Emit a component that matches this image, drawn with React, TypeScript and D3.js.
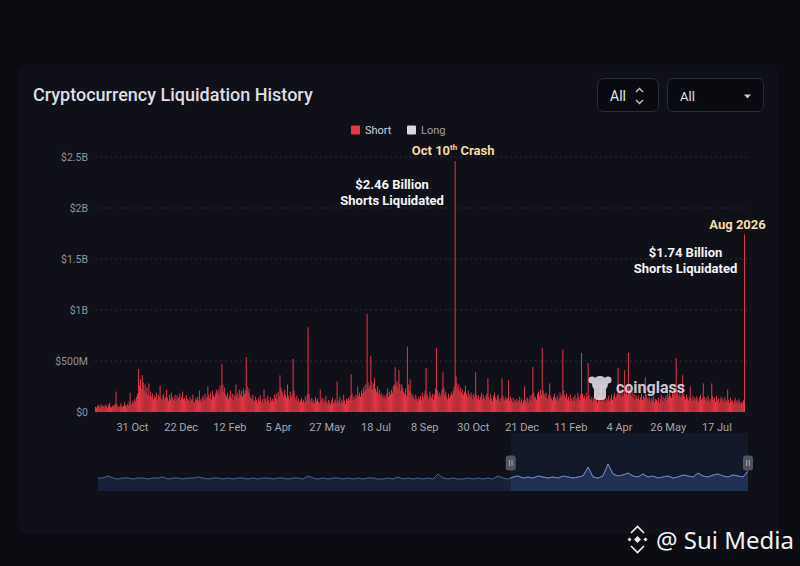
import * as d3 from 'd3';

// daily short liquidations, $M, starting 2024-09-21
const shortDaily: number[] = [
  50, 42, 60, 68, 55, 40, 78, 62, 48, 65,
  45, 75, 58, 42, 70, 90, 52, 45, 62, 55,
  68, 80, 200, 72, 48, 58, 45, 85, 65, 50,
  60, 95, 68, 55, 80, 62, 100, 190, 70, 88,
  110, 85, 130, 105, 150, 180, 420, 260, 320, 230,
  360, 290, 210, 270, 190, 240, 170, 280, 160, 200,
  150, 180, 125, 160, 140, 190, 120, 170, 150, 260,
  135, 115, 160, 180, 125, 145, 220, 140, 110, 170,
  125, 190, 150, 115, 135, 170, 105, 160, 128, 145,
  180, 118, 150, 200, 125, 140, 110, 165, 130, 120,
  100, 145, 115, 125, 170, 105, 90, 135, 120, 150,
  110, 210, 125, 100, 140, 160, 115, 180, 130, 150,
  250, 170, 140, 190, 125, 210, 160, 145, 180, 220,
  190, 220, 170, 260, 210, 470, 270, 200, 240, 170,
  150, 190, 125, 160, 210, 140, 180, 115, 170, 150,
  270, 160, 190, 140, 220, 170, 205, 150, 230, 180,
  210, 540, 250, 190, 230, 160, 140, 125, 170, 115,
  105, 150, 120, 95, 140, 110, 165, 100, 125, 90,
  220, 115, 135, 100, 160, 120, 90, 145, 110, 130,
  105, 170, 140, 180, 125, 200, 160, 360, 240, 210,
  190, 150, 220, 170, 140, 270, 160, 125, 200, 150,
  175, 520, 210, 140, 120, 160, 105, 130, 95, 115,
  140, 100, 120, 90, 150, 110, 170, 830, 180, 125,
  105, 140, 95, 120, 85, 150, 110, 130, 100, 90,
  220, 115, 140, 100, 125, 90, 160, 105, 80, 120,
  95, 75, 110, 140, 85, 100, 125, 90, 300, 115,
  100, 150, 85, 120, 95, 170, 105, 80, 130, 110,
  140, 120, 160, 370, 180, 115, 150, 125, 170, 140,
  250, 160, 190, 150, 210, 180, 240, 200, 270, 220,
  960, 290, 230, 260, 550, 300, 220, 280, 330, 230,
  200, 250, 180, 220, 160, 190, 150, 170, 130, 160,
  125, 180, 230, 150, 200, 170, 220, 190, 250, 270,
  440, 260, 300, 230, 410, 280, 210, 270, 240, 200,
  180, 230, 160, 640, 270, 210, 320, 190, 150, 170,
  140, 120, 170, 130, 105, 150, 125, 160, 115, 190,
  140, 170, 210, 430, 180, 150, 125, 200, 160, 140,
  180, 120, 170, 230, 630, 210, 160, 190, 150, 180,
  220, 390, 240, 170, 200, 150, 125, 180, 140, 160,
  190, 170, 210, 250, 2460, 350, 280, 230, 270, 210,
  240, 190, 220, 170, 200, 260, 180, 150, 210, 170,
  140, 190, 160, 125, 180, 150, 390, 170, 130, 160,
  115, 150, 190, 125, 170, 140, 110, 160, 180, 330,
  150, 120, 175, 130, 105, 160, 190, 140, 115, 150,
  170, 125, 100, 140, 330, 160, 130, 115, 150, 120,
  135, 310, 110, 150, 125, 100, 140, 90, 120, 105,
  130, 95, 115, 150, 100, 125, 85, 110, 250, 120,
  105, 140, 90, 125, 160, 110, 170, 440, 190, 140,
  150, 120, 180, 200, 160, 220, 170, 630, 210, 180,
  150, 190, 140, 125, 170, 280, 160, 130, 115, 150,
  180, 140, 120, 160, 105, 135, 190, 150, 170, 610,
  210, 160, 140, 180, 125, 150, 110, 170, 130, 105,
  145, 120, 165, 100, 135, 190, 150, 115, 170, 580,
  180, 140, 160, 125, 190, 150, 480, 170, 130, 120,
  150, 105, 135, 170, 115, 140, 95, 125, 160, 110,
  270, 135, 100, 150, 120, 90, 140, 115, 160, 105,
  130, 170, 120, 150, 190, 140, 160, 180, 430, 200,
  170, 220, 150, 190, 160, 410, 180, 210, 170, 580,
  230, 190, 160, 200, 140, 180, 125, 170, 150, 130,
  160, 115, 145, 180, 120, 155, 135, 340, 170, 140,
  110, 150, 125, 100, 140, 115, 160, 95, 130, 120,
  105, 140, 90, 125, 170, 110, 150, 100, 135, 160,
  120, 180, 145, 200, 160, 140, 190, 170, 220, 180,
  530, 210, 170, 150, 190, 140, 160, 360, 180, 150,
  125, 170, 140, 115, 150, 250, 130, 105, 160, 120,
  140, 110, 155, 125, 100, 145, 170, 120, 135, 280,
  150, 115, 140, 105, 160, 125, 95, 130, 280, 150,
  120, 140, 100, 160, 115, 135, 90, 125, 150, 110,
  130, 95, 145, 115, 100, 220, 120, 90, 140, 105,
  115, 80, 110, 140, 95, 115, 85, 125, 100, 75,
  100, 85, 115, 1740,
];

const startDay = '2024-09-21';

const tickDays = [
  '2024-10-31', '2024-12-22', '2025-02-12', '2025-04-05', '2025-05-27', '2025-07-18', '2025-09-08',
  '2025-10-30', '2025-12-21', '2026-02-11', '2026-04-04', '2026-05-26', '2026-07-17',
];

const yTicks = [0, 500, 1000, 1500, 2000, 2500];

// full-history overview for the slider strip (relative units)
const overviewValues = [
  13, 13, 15, 13, 12, 13, 13, 12, 13, 13, 12, 13, 13, 14, 12, 13, 13, 12, 13, 13,
  14, 13, 12, 13, 13, 12, 13, 12, 13, 13, 12, 13, 12, 13, 13, 12, 13, 13, 12, 13,
  13, 12, 15, 13, 12, 13, 12, 13, 13, 12, 13, 12, 13, 12, 13, 13, 12, 12, 13, 12,
  14, 12, 13, 12, 13, 12, 13, 12, 17, 13, 12, 13, 12, 12, 13, 12, 13, 12, 13, 12,
  15, 13, 12, 14, 15, 13, 14, 13, 15, 14, 13, 14, 13, 15, 14, 13, 14, 15, 24, 14,
  13, 15, 27, 17, 15, 16, 18, 15, 14, 17, 14, 15, 13, 14, 15, 13, 14, 16, 15, 14,
  18, 15, 14, 16, 17, 15, 14, 16, 15, 14, 20,
];

const zoomRange = [63.5, 100];

const legendItems = [
  { name: 'Short', color: '#e8384a', text: '#d2d2d8' },
  { name: 'Long', color: '#d9d9de', text: '#9c9ca6' },
];

const annotations = [
  { day: '2025-10-10', head: 'Oct 10', sup: 'th', tail: ' Crash', lines: ['$2.46 Billion', 'Shorts Liquidated'], headDx: -2, headY: 155, linesDx: -63, linesY: 189 },
  { day: '2026-08-15', head: 'Aug 2026', sup: '', tail: '', lines: ['$1.74 Billion', 'Shorts Liquidated'], headDx: -7, headY: 229, linesDx: -59, linesY: 257 },
];

const W = 800;
const H = 566;
const plot = { left: 95, right: 745, top: 157, bottom: 412 };
const mini = { left: 98, right: 748, top: 451, bottom: 491 };

const parse = d3.utcParse('%Y-%m-%d');
const fmtTick = d3.utcFormat('%-d %b');

const fmtY = (v: number) => (v === 0 ? '$0' : v >= 1000 ? `$${v / 1000}B` : `$${v}M`);

export default function App() {
  const start = parse(startDay) as Date;
  const days = shortDaily.map((_, i) => d3.utcDay.offset(start, i));
  const end = d3.utcDay.offset(start, shortDaily.length);

  const x = d3.scaleUtc().domain([start, end]).range([plot.left, plot.right]);
  const y = d3.scaleLinear().domain([0, 2500]).range([plot.bottom, plot.top]);

  const mx = d3.scaleLinear().domain([0, overviewValues.length - 1]).range([mini.left, mini.right]);
  const my = d3.scaleLinear().domain([0, 40]).range([mini.bottom, mini.top]);
  const zx = d3.scaleLinear().domain([0, 100]).range([mini.left, mini.right]);

  const area = d3.area<number>().x((_, i) => mx(i)).y0(mini.bottom).y1((d) => my(d));
  const line = d3.line<number>().x((_, i) => mx(i)).y((d) => my(d));

  const selX0 = zx(zoomRange[0]);
  const selX1 = zx(zoomRange[1]);

  const font = 'Roboto, "Noto Sans", sans-serif';

  return (
    <svg width={W} height={H} style={{ position: 'absolute', left: 0, top: 0, display: 'block' }} fontFamily={font}>
      <defs>
        <clipPath id="sel">
          <rect x={selX0} y={mini.top - 20} width={selX1 - selX0} height={60} />
        </clipPath>
      </defs>
      <rect width={W} height={H} fill="#0c0d13" />
      <rect x={19} y={64} width={759} height={470} rx={8} fill="#101118" />

      {/* title */}
      <text x={33} y={101} fontSize={18} fontWeight={500} fill="#dedee4">Cryptocurrency Liquidation History</text>

      {/* controls */}
      <rect x={597.5} y={78.5} width={61} height={33} rx={6} fill="#0a0b10" stroke="#2a2d38" />
      <text x={610} y={101} fontSize={14} fill="#e6e6ec">All</text>
      <path d="M636 92 L639.5 88.5 L643 92 M636 100 L639.5 103.5 L643 100" fill="none" stroke="#c8c8d0" strokeWidth={1.3} />
      <rect x={667.5} y={78.5} width={96} height={33} rx={6} fill="#0a0b10" stroke="#2a2d38" />
      <text x={680} y={101} fontSize={13} fill="#e0e0e6">All</text>
      <path d="M744 94.5 L751 94.5 L747.5 98.5 Z" fill="#c8c8d0" />

      {/* legend */}
      {legendItems.map((it, i) => (
        <g key={it.name} transform={`translate(${351 + i * 56},0)`}>
          <rect x={0} y={125.5} width={9} height={9} rx={1} fill={it.color} />
          <text x={14} y={134} fontSize={11} fill={it.text}>{it.name}</text>
        </g>
      ))}

      {/* grid + y labels */}
      {yTicks.map((t) => (
        <g key={t}>
          <line x1={plot.left} x2={plot.right + 3} y1={y(t)} y2={y(t)} stroke="#2b2d37" strokeDasharray="2,3" />
          <text x={88} y={y(t) + 3.5} fontSize={10.5} fill="#8f919b" textAnchor="end">{fmtY(t)}</text>
        </g>
      ))}

      {/* bars */}
      <g fill="#f03849">
        {shortDaily.map((v, i) => {
          const x0 = x(days[i]);
          const x1 = x(d3.utcDay.offset(days[i], 1));
          return <rect key={i} x={x0} y={y(v)} width={x1 - x0} height={plot.bottom - y(v)} />;
        })}
      </g>

      {/* x labels */}
      {tickDays.map((d) => {
        const dt = parse(d) as Date;
        return (
          <text key={d} x={x(dt)} y={431} fontSize={11} fill="#a3a5ae" textAnchor="middle">{fmtTick(dt)}</text>
        );
      })}

      {/* annotations */}
      {annotations.map((a) => {
        const dt = parse(a.day) as Date;
        const cx = x(dt) + (x(d3.utcDay.offset(dt, 1)) - x(dt)) / 2;
        return (
          <g key={a.day} fontWeight={700} fontSize={13} textAnchor="middle">
            <text x={cx + a.headDx} y={a.headY} fill="#f3dca6">
              {a.head}
              {a.sup && <tspan fontSize={8} dy={-5}>{a.sup}</tspan>}
              {a.tail && <tspan dy={a.sup ? 5 : 0}>{a.tail}</tspan>}
            </text>
            {a.lines.map((l, j) => (
              <text key={l} x={cx + a.linesDx} y={a.linesY + j * 16} fill="#f4f4f6">{l}</text>
            ))}
          </g>
        );
      })}

      {/* coinglass watermark */}
      <g fill="#ece7ee" opacity={0.85}>
        <circle cx={600} cy={384} r={8} />
        <circle cx={592} cy={380} r={3.5} />
        <circle cx={608} cy={380} r={3.5} />
        <rect x={594} y={387} width={12} height={13} rx={4} />
        <text x={616} y={393} fontSize={16} fontWeight={700}>coinglass</text>
      </g>

      {/* overview slider */}
      <rect x={selX0} y={433} width={selX1 - selX0} height={mini.bottom - 433} fill="#131929" />
      <path d={area(overviewValues) ?? ''} fill="#18203a" />
      <path d={area(overviewValues) ?? ''} fill="#223052" clipPath="url(#sel)" />
      <path d={line(overviewValues) ?? ''} fill="none" stroke="#4d5f92" strokeWidth={1} />
      <path d={line(overviewValues) ?? ''} fill="none" stroke="#6f82b6" strokeWidth={1} clipPath="url(#sel)" />
      {[selX0, selX1].map((hx, i) => (
        <g key={i}>
          <rect x={hx - 5} y={455.5} width={10} height={15} rx={3} fill="#50545f" />
          <line x1={hx - 1.3} x2={hx - 1.3} y1={460} y2={466} stroke="#b8bcc6" strokeWidth={0.8} />
          <line x1={hx + 1.3} x2={hx + 1.3} y1={460} y2={466} stroke="#b8bcc6" strokeWidth={0.8} />
        </g>
      ))}

      {/* source watermark */}
      <g fill="none" stroke="#f0f0f0" strokeWidth={1.6}>
        <path d="M637.5 536 L641 539.5 L637.5 543 L634 539.5 Z" fill="#f0f0f0" stroke="none" />
        <path d="M631 533 L637.5 526.5 L644 533" />
        <path d="M631 546 L637.5 552.5 L644 546" />
        <path d="M627.5 539.5 L629.5 537.5 L631.5 539.5 L629.5 541.5 Z" fill="#f0f0f0" stroke="none" />
        <path d="M643.5 539.5 L645.5 537.5 L647.5 539.5 L645.5 541.5 Z" fill="#f0f0f0" stroke="none" />
      </g>
      <text x={656} y={549} fontSize={24} fill="#f2f2f4" fontFamily='"Noto Sans", sans-serif'>@ Sui Media</text>
    </svg>
  );
}
